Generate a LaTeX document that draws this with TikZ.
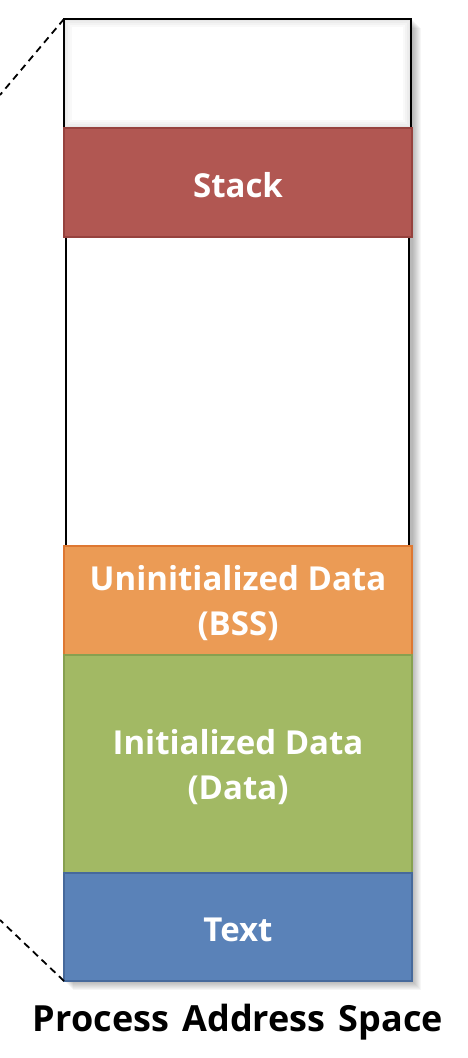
\documentclass[tikz,border=0pt]{standalone}
\usepackage{fontspec}
\setmainfont{Open Sans}
\definecolor{stackfill}{RGB}{177,87,82}
\definecolor{stackedge}{RGB}{150,66,62}
\definecolor{bssfill}{RGB}{235,155,85}
\definecolor{bssedge}{RGB}{222,120,50}
\definecolor{datafill}{RGB}{162,185,100}
\definecolor{dataedge}{RGB}{135,160,80}
\definecolor{textfill}{RGB}{90,130,184}
\definecolor{textedge}{RGB}{70,105,155}
\begin{document}
\begin{tikzpicture}[x=1pt,y=-1pt,
  seg/.style={rectangle, anchor=north west, inner sep=0pt, outer sep=0pt, line width=1.4pt},
  segtext/.style={inner sep=0pt, font=\fontsize{33}{45}\selectfont\bfseries, text=white, align=center, yshift=-3pt},
  emptyseg/.style={seg, draw=black, fill=white, line width=1.9pt},
  dashline/.style={draw=black, line width=1.8pt, dash pattern=on 7pt off 5pt}]
\useasboundingbox (0,0) rectangle (468,1058);
% drop shadow of the column
\foreach \k in {1,...,9}
  \fill[black, opacity=0.035] (64+\k,19+\k) rectangle (412+\k,981+\k);
% segments
\node[emptyseg, minimum width=347pt, minimum height=109pt] (top) at (64,19) {};
\begin{scope}
  \clip (65,20) rectangle (410,127);
  \foreach \w in {4,8,12,16}
    \draw[black, opacity=0.025, line width=\w pt] (64,19) rectangle (411,128);
\end{scope}
\node[emptyseg, minimum width=343pt, minimum height=309pt] (free) at (66,237) {};
\node[seg, draw=stackedge, fill=stackfill, minimum width=348pt, minimum height=109pt] (stack) at (64,128) {};
\node[seg, draw=bssedge, fill=bssfill, minimum width=348pt, minimum height=109pt] (bss) at (64,546) {};
\node[seg, draw=dataedge, fill=datafill, minimum width=348pt, minimum height=218pt] (data) at (64,655) {};
\node[seg, draw=textedge, fill=textfill, minimum width=348pt, minimum height=108pt] (text) at (64,873) {};
\node[segtext] (stackt) at (stack.center) {Stack};
\node[segtext] (bsst) at (bss.center) {Uninitialized Data\\(BSS)};
\node[segtext] (datat) at (data.center) {Initialized Data\\(Data)};
\node[segtext] (textt) at (text.center) {Text};
% label
\node[font=\fontsize{36}{42}\selectfont\bfseries, text=black, inner sep=0pt] (label) at (238,1022) {Process\hspace{4pt} Address\hspace{4pt} Space};
% dashed lines
\coordinate (dtl) at (0,95);
\coordinate (dbl) at (0,920);
\draw[dashline] (top.north west) -- (dtl);
\draw[dashline] (text.south west) -- (dbl);
\end{tikzpicture}
\end{document}
